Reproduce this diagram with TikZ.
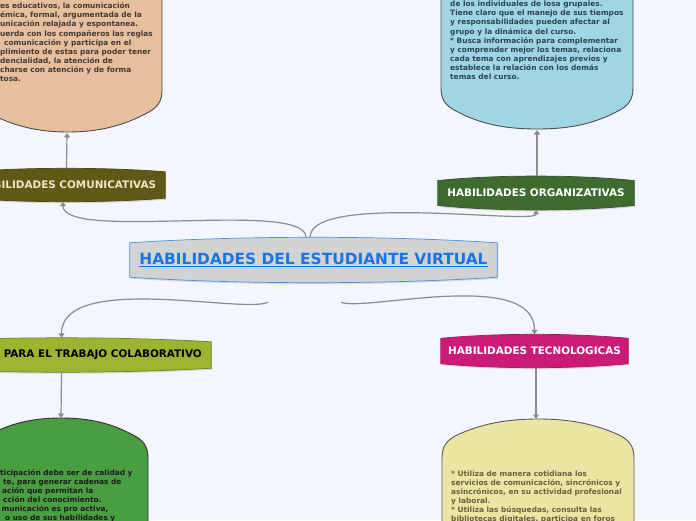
\documentclass[tikz,border=0pt]{standalone}
\usepackage{fontspec}
\setmainfont{DejaVu Sans}
\usetikzlibrary{arrows.meta,calc,shadows,backgrounds}
\definecolor{bg}{HTML}{F3F6FE}
\definecolor{cfill}{HTML}{D2D3D5}
\definecolor{cdraw}{HTML}{4A90D9}
\definecolor{ctext}{HTML}{1B74E4}
\definecolor{comfill}{HTML}{5E5915}
\definecolor{comtext}{HTML}{ECE7C4}
\definecolor{orgfill}{HTML}{3E6B2F}
\definecolor{colfill}{HTML}{9DB52E}
\definecolor{tecfill}{HTML}{CC1B77}
\definecolor{tlfill}{HTML}{E5BF9E}
\definecolor{tltext}{HTML}{453A33}
\definecolor{trfill}{HTML}{A0D6E3}
\definecolor{trtext}{HTML}{2B4450}
\definecolor{blfill}{HTML}{4A9E42}
\definecolor{bltext}{HTML}{1C1C1C}
\definecolor{brfill}{HTML}{EBE5A3}
\definecolor{brtext}{HTML}{66603F}
\definecolor{connc}{HTML}{8C8C8C}
\newcommand\topicshape[4]{%
  \path[fill=#2, draw=#3, line width=0.7pt,
        drop shadow={opacity=0.25,shadow xshift=0.8pt,shadow yshift=-1.5pt}]
   (#1.north west) .. controls ($(#1.north west)!0.3!(#1.north east)+(0,-1.333*#4)$)
      and ($(#1.north west)!0.7!(#1.north east)+(0,-1.333*#4)$) .. (#1.north east)
   -- (#1.south east) .. controls ($(#1.south west)!0.7!(#1.south east)+(0,1.333*#4)$)
      and ($(#1.south west)!0.3!(#1.south east)+(0,1.333*#4)$) .. (#1.south west) -- cycle;}
\begin{document}
\begin{tikzpicture}[x=1pt,y=-1pt,
  topicnode/.style={inner sep=0pt, font=\fontsize{10.4}{12}\selectfont\bfseries},
  btext/.style={inner sep=0pt, align=left, anchor=base west,
     font=\fontsize{7.4}{9.1}\selectfont\bfseries},
  conn/.style={draw=connc, line width=1.2pt, -{Triangle[length=4.5pt,width=6pt]}},
  bubble/.style={line width=0.9pt}]
\useasboundingbox (0,0) rectangle (696,520);

% topic nodes
\node[topicnode, minimum width=367pt, minimum height=34pt, text=ctext,
      font=\fontsize{15.4}{18}\selectfont\bfseries] (c) at (313.5,260)
      {\underline{HABILIDADES DEL ESTUDIANTE VIRTUAL}};
\node[topicnode, minimum width=197pt, minimum height=26pt, text=comtext] (com) at (66.5,185)
      {HABILIDADES COMUNICATIVAS};
\node[topicnode, minimum width=196pt, minimum height=24.5pt, text=white] (org) at (536,193)
      {HABILIDADES ORGANIZATIVAS};
\node[topicnode, minimum width=299pt, minimum height=26pt, text=black] (col) at (61.5,355)
      {HABILIDADES PARA EL TRABAJO COLABORATIVO};
\node[topicnode, minimum width=187pt, minimum height=25pt, text=white] (tec) at (534.5,351)
      {HABILIDADES TECNOLOGICAS};

% bubble texts (anchor = baseline of the last line)
\node[btext, text=tltext] (tlt) at (0,81.5) {es educativos, la comunicación\\
émica, formal, argumentada de la\\
unicación relajada y espontanea.\\
uerda con los compañeros las reglas\\
\hspace*{4pt}comunicación y participa en el\\
plimiento de estas para poder tener\\
dencialidad, la atención de\\
charse con atención y de forma\\
tosa.};
\node[btext, text=trtext] (trt) at (450,79.5) {de los individuales de losa grupales.\\
Tiene claro que el manejo de sus tiempos\\
y responsabilidades pueden afectar al\\
grupo y la dinámica del curso.\\
* Busca información para complementar\\
y comprender mejor los temas, relaciona\\
cada tema con aprendizajes previos y\\
establece la relación con los demás\\
temas del curso.};
\node[btext, text=bltext] (blt) at (0,520.5) {ticipación debe ser de calidad y\\
\hspace*{3pt}te, para generar cadenas de\\
\hspace*{2pt}ación que permitan la\\
\hspace*{3pt}cción del conocimiento.\\
\hspace*{1.5pt}municación es pro activa,\\
\hspace*{5pt}o uso de sus habilidades y};
\node[btext, text=brtext] (brt) at (451,521.5) {* Utiliza de manera cotidiana los\\
servicios de comunicación, sincrónicos y\\
asincrónicos, en su actividad profesional\\
y laboral.\\
* Utiliza las búsquedas, consulta las\\
bibliotecas digitales, participa en foros};

% bubble tips and free connector ends
\coordinate (tlb) at (67,133);
\coordinate (trb) at (537,130);
\coordinate (blb) at (61,418);
\coordinate (brb) at (536,419);
\coordinate (bl0) at ($(c.south)+(-45.5,25)$);
\coordinate (br0) at ($(c.south)+(27.5,25)$);

\begin{scope}[on background layer]
\fill[bg] (0,0) rectangle (696,520);
% bubbles
\path[bubble, fill=tlfill, draw=black!70] (-26,-20) -- (-26,90)
  .. controls (-26,102) and (-21,108) .. (-11,113)
  .. controls (13,126) and (38,132) .. (68,132)
  .. controls (98,132) and (123,126) .. (147,113)
  .. controls (157,108) and (162,102) .. (162,90) -- (162,-20) -- cycle;
\path[bubble, fill=trfill, draw=black!70] (441,-20) -- (441,88)
  .. controls (441,100) and (446,106) .. (456,111)
  .. controls (480,124) and (505,129) .. (537,129)
  .. controls (569,129) and (594,124) .. (618,111)
  .. controls (628,106) and (633,100) .. (633,88) -- (633,-20) -- cycle;
\path[bubble, fill=blfill, draw=black!80] (-26,540) -- (-26,458)
  .. controls (-26,446) and (-21,440) .. (-11,435)
  .. controls (11,423) and (33,418) .. (61,418)
  .. controls (89,418) and (111,423) .. (133,435)
  .. controls (143,440) and (148,446) .. (148,458) -- (148,540) -- cycle;
\path[bubble, fill=brfill, draw=black!65] (442,540) -- (442,458)
  .. controls (442,446) and (447,440) .. (457,435)
  .. controls (481,424) and (506,419) .. (538,419)
  .. controls (570,419) and (595,424) .. (619,435)
  .. controls (629,440) and (634,446) .. (634,458) -- (634,540) -- cycle;
% topic shapes
\topicshape{c}{cfill}{cdraw}{5.5}
\topicshape{com}{comfill}{comfill!80!black}{3.5}
\topicshape{org}{orgfill}{orgfill!80!black}{4.5}
\topicshape{col}{colfill}{colfill!70!black}{4}
\topicshape{tec}{tecfill}{tecfill!80!black}{4}
\end{scope}

% connectors
\draw[conn] ($(c.north)+(-7.5,-5.5)$) .. controls +(0,-38) and +(0,40) .. ($(com.south)+(-3.5,3.5)$);
\draw[conn] ($(c.north)+(-3.5,-5.5)$) .. controls +(0,-45) and +(0,15) .. ($(org.south)+(0,4.5)$);
\draw[conn] (bl0) .. controls +(-23,12) and +(0,-66) .. ($(col.north)+(0,-4)$);
\draw[conn] (br0) .. controls +(21,10) and +(0,-67) .. ($(tec.north)+(0,-4)$);
\draw[conn] ($(com.north)+(0,-3.5)$) -- (tlb);
\draw[conn] ($(org.north)+(1,-4.5)$) -- (trb);
\draw[conn] ($(col.south)+(0,4)$) -- (blb);
\draw[conn] ($(tec.south)+(1.5,4)$) -- (brb);
\end{tikzpicture}
\end{document}
